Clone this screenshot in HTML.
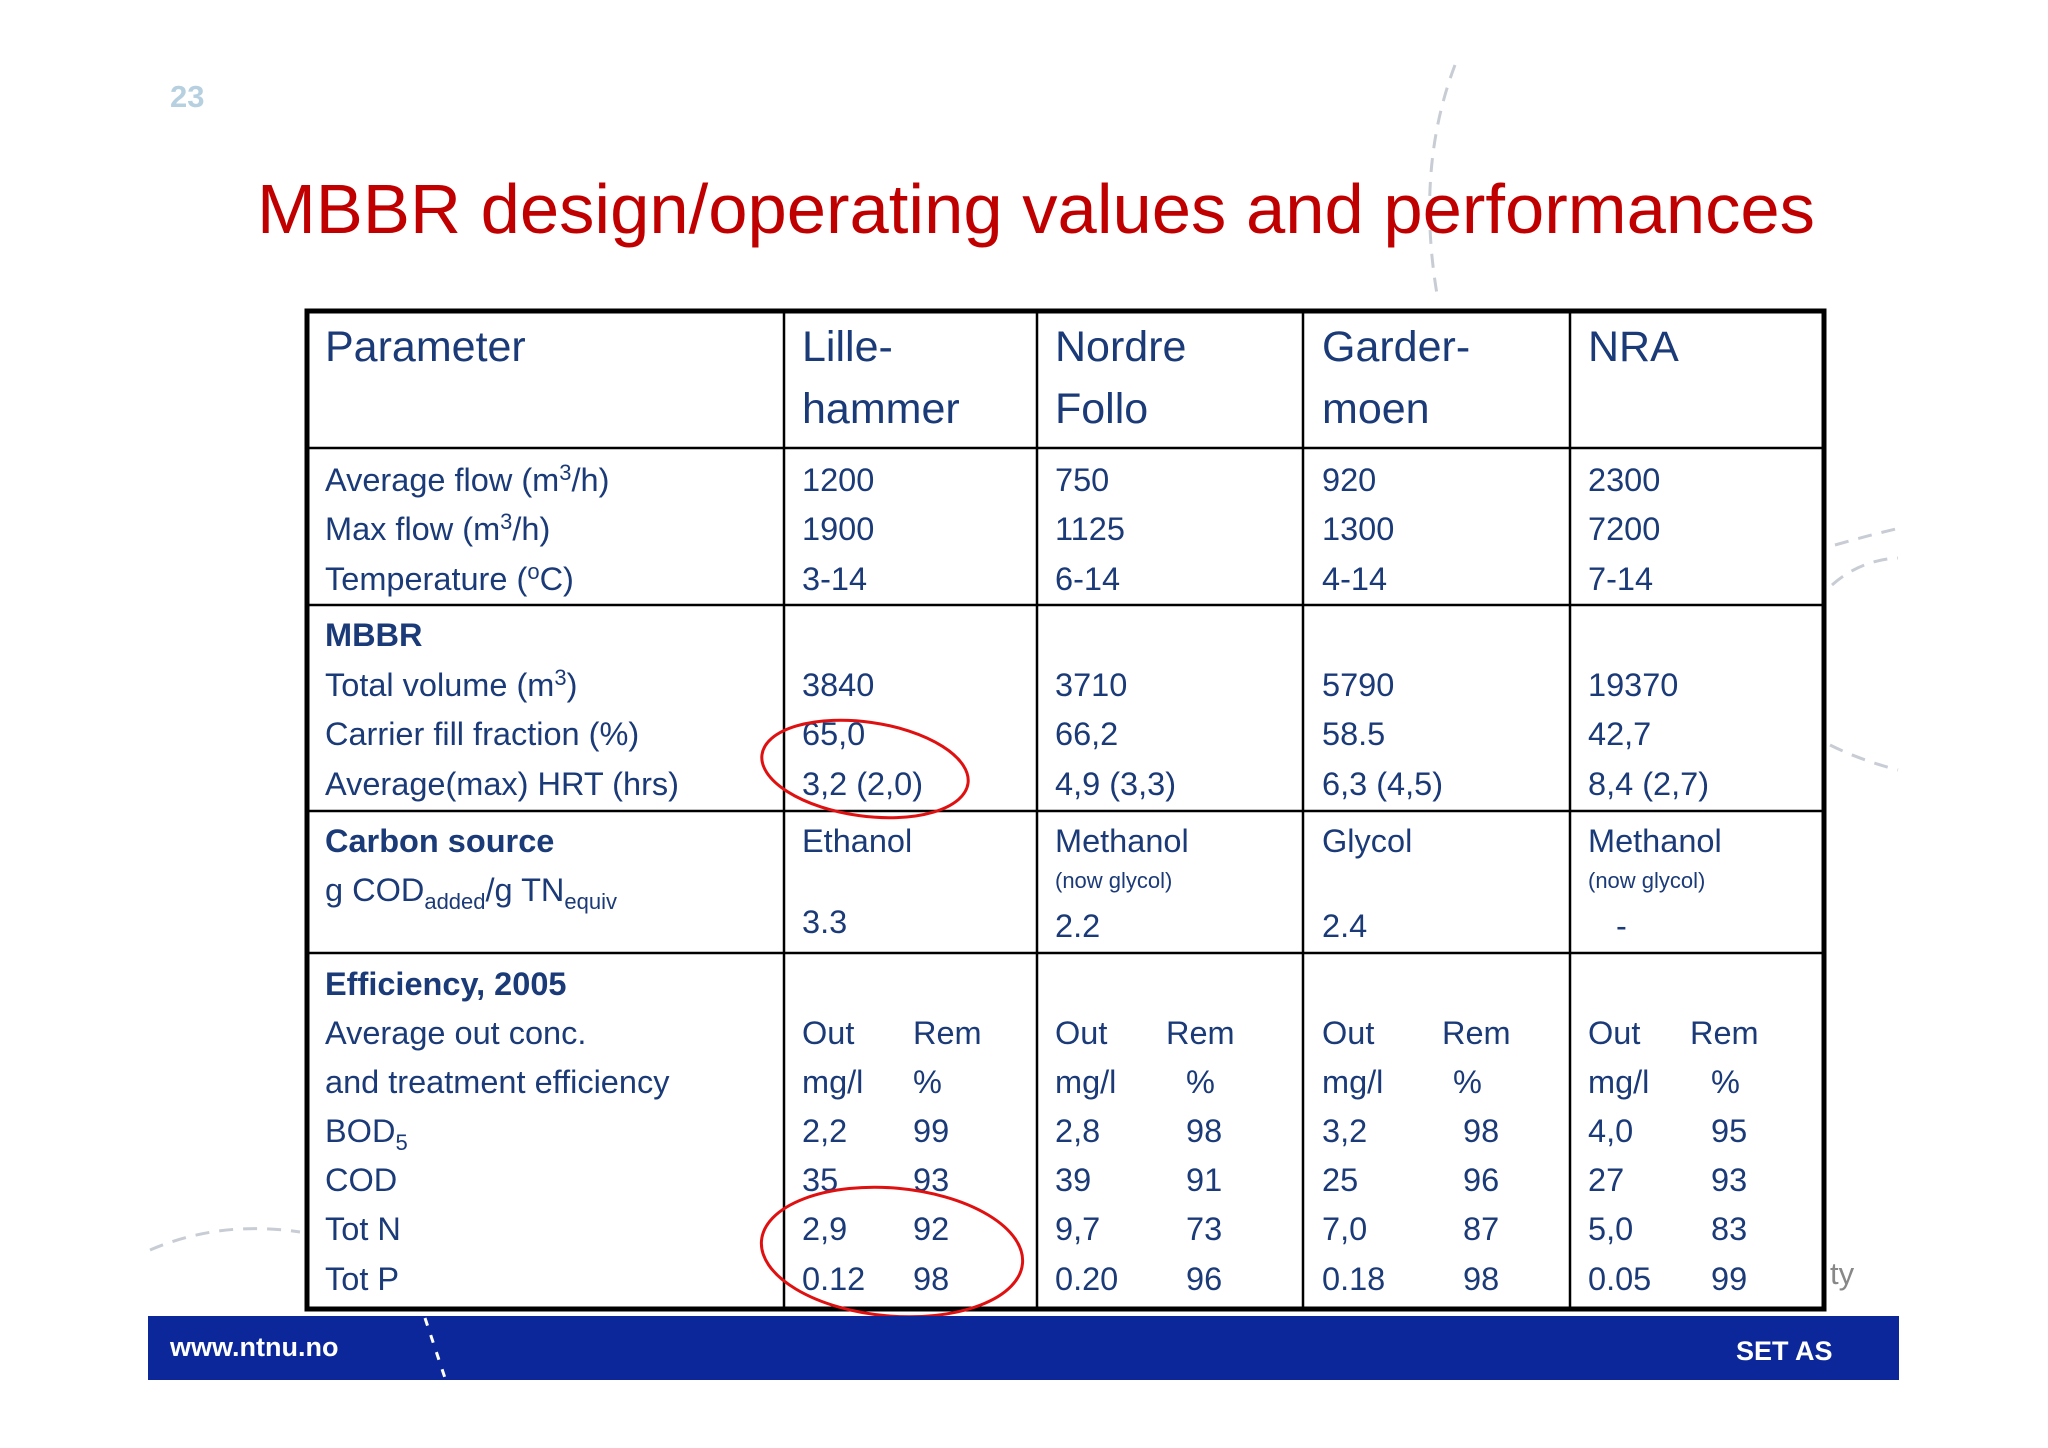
<!DOCTYPE html>
<html><head><meta charset="utf-8"><style>
html,body{margin:0;padding:0;background:#fff}
svg{display:block}
text{font-family:"Liberation Sans",Arial,sans-serif;fill:#1b3a78}
.h{font-size:43px}
.b{font-size:32.5px}
.s{font-size:22px}
.bold{font-weight:bold}
</style></head><body>
<svg width="2048" height="1448" viewBox="0 0 2048 1448">
<rect width="2048" height="1448" fill="#fff"/>
<g fill="none" stroke="#c8ccd4" stroke-width="3" stroke-dasharray="14 10">
<path d="M1455 65 Q1415 170 1438 300"/>
<path d="M1835 545 Q1870 535 1900 528"/>
<path d="M1832 585 Q1860 560 1898 558"/>
<path d="M1830 745 Q1860 760 1898 770"/>
<path d="M150 1250 Q220 1220 300 1232"/>
</g>
<text x="170" y="107" style="font-size:31px;font-weight:bold;fill:#b6d0e0">23</text>
<text x="257" y="233" textLength="1558" lengthAdjust="spacingAndGlyphs" style="font-size:70px;fill:#c00000">MBBR design/operating values and performances</text>
<g>
<rect x="307" y="311" width="1517" height="998" fill="#fff" stroke="#000" stroke-width="5"/>
<g stroke="#000" stroke-width="2.5">
<line x1="784" y1="311" x2="784" y2="1309"/><line x1="1037" y1="311" x2="1037" y2="1309"/>
<line x1="1303" y1="311" x2="1303" y2="1309"/><line x1="1570" y1="311" x2="1570" y2="1309"/>
<line x1="307" y1="448" x2="1824" y2="448"/><line x1="307" y1="605" x2="1824" y2="605"/>
<line x1="307" y1="811" x2="1824" y2="811"/><line x1="307" y1="953" x2="1824" y2="953"/>
</g>
<g class="h">
<text x="325" y="361">Parameter</text>
<text x="802" y="361">Lille-</text><text x="802" y="423">hammer</text>
<text x="1055" y="361">Nordre</text><text x="1055" y="423">Follo</text>
<text x="1322" y="361">Garder-</text><text x="1322" y="423">moen</text>
<text x="1588" y="361">NRA</text>
</g>
<g class="b">
<text x="325" y="491">Average flow (m<tspan class="s" dy="-11">3</tspan><tspan dy="11">/h)</tspan></text>
<text x="325" y="540">Max flow (m<tspan class="s" dy="-11">3</tspan><tspan dy="11">/h)</tspan></text>
<text x="325" y="590">Temperature (<tspan class="s" dy="-11">o</tspan><tspan dy="11">C)</tspan></text>
<text x="802" y="491">1200</text><text x="802" y="540">1900</text><text x="802" y="590">3-14</text>
<text x="1055" y="491">750</text><text x="1055" y="540">1125</text><text x="1055" y="590">6-14</text>
<text x="1322" y="491">920</text><text x="1322" y="540">1300</text><text x="1322" y="590">4-14</text>
<text x="1588" y="491">2300</text><text x="1588" y="540">7200</text><text x="1588" y="590">7-14</text>

<text x="325" y="646" class="bold">MBBR</text>
<text x="325" y="696">Total volume (m<tspan class="s" dy="-11">3</tspan><tspan dy="11">)</tspan></text>
<text x="325" y="745">Carrier fill fraction (%)</text>
<text x="325" y="795">Average(max) HRT (hrs)</text>
<text x="802" y="696">3840</text><text x="802" y="745">65,0</text><text x="802" y="795">3,2 (2,0)</text>
<text x="1055" y="696">3710</text><text x="1055" y="745">66,2</text><text x="1055" y="795">4,9 (3,3)</text>
<text x="1322" y="696">5790</text><text x="1322" y="745">58.5</text><text x="1322" y="795">6,3 (4,5)</text>
<text x="1588" y="696">19370</text><text x="1588" y="745">42,7</text><text x="1588" y="795">8,4 (2,7)</text>

<text x="325" y="852" class="bold">Carbon source</text>
<text x="325" y="901">g COD<tspan class="s" dy="8">added</tspan><tspan dy="-8">/g TN</tspan><tspan class="s" dy="8">equiv</tspan></text>
<text x="802" y="852">Ethanol</text><text x="802" y="933">3.3</text>
<text x="1055" y="852">Methanol</text><text x="1055" y="888" class="s">(now glycol)</text><text x="1055" y="937">2.2</text>
<text x="1322" y="852">Glycol</text><text x="1322" y="937">2.4</text>
<text x="1588" y="852">Methanol</text><text x="1588" y="888" class="s">(now glycol)</text><text x="1616" y="937">-</text>

<text x="325" y="995" class="bold">Efficiency, 2005</text>
<text x="325" y="1044">Average out conc.</text>
<text x="325" y="1093">and treatment efficiency</text>
<text x="325" y="1142">BOD<tspan class="s" dy="8">5</tspan></text>
<text x="325" y="1191">COD</text>
<text x="325" y="1240">Tot N</text>
<text x="325" y="1290">Tot P</text>

<text x="802" y="1044">Out</text><text x="913" y="1044">Rem</text>
<text x="802" y="1093">mg/l</text><text x="913" y="1093">%</text>
<text x="802" y="1142">2,2</text><text x="913" y="1142">99</text>
<text x="802" y="1191">35</text><text x="913" y="1191">93</text>
<text x="802" y="1240">2,9</text><text x="913" y="1240">92</text>
<text x="802" y="1290">0.12</text><text x="913" y="1290">98</text>

<text x="1055" y="1044">Out</text><text x="1166" y="1044">Rem</text>
<text x="1055" y="1093">mg/l</text><text x="1186" y="1093">%</text>
<text x="1055" y="1142">2,8</text><text x="1186" y="1142">98</text>
<text x="1055" y="1191">39</text><text x="1186" y="1191">91</text>
<text x="1055" y="1240">9,7</text><text x="1186" y="1240">73</text>
<text x="1055" y="1290">0.20</text><text x="1186" y="1290">96</text>

<text x="1322" y="1044">Out</text><text x="1442" y="1044">Rem</text>
<text x="1322" y="1093">mg/l</text><text x="1453" y="1093">%</text>
<text x="1322" y="1142">3,2</text><text x="1463" y="1142">98</text>
<text x="1322" y="1191">25</text><text x="1463" y="1191">96</text>
<text x="1322" y="1240">7,0</text><text x="1463" y="1240">87</text>
<text x="1322" y="1290">0.18</text><text x="1463" y="1290">98</text>

<text x="1588" y="1044">Out</text><text x="1690" y="1044">Rem</text>
<text x="1588" y="1093">mg/l</text><text x="1711" y="1093">%</text>
<text x="1588" y="1142">4,0</text><text x="1711" y="1142">95</text>
<text x="1588" y="1191">27</text><text x="1711" y="1191">93</text>
<text x="1588" y="1240">5,0</text><text x="1711" y="1240">83</text>
<text x="1588" y="1290">0.05</text><text x="1711" y="1290">99</text>
</g>
</g>
<text x="1830" y="1284" style="font-size:31px;fill:#888">ty</text>
<ellipse cx="865" cy="769" rx="104" ry="47" transform="rotate(8 865 769)" fill="none" stroke="#e01010" stroke-width="3"/>
<ellipse cx="892" cy="1252" rx="131" ry="64" transform="rotate(5 892 1252)" fill="none" stroke="#e01010" stroke-width="3"/>
<rect x="148" y="1316" width="1751" height="64" fill="#0b279a"/>
<text x="170" y="1356" style="font-size:27px;font-weight:bold;fill:#fff">www.ntnu.no</text>
<text x="1736" y="1360" style="font-size:27px;font-weight:bold;fill:#fff">SET AS</text>
<path d="M425 1318 L445 1378" stroke="#fff" stroke-width="3" stroke-dasharray="8 10"/>
</svg>
</body></html>
